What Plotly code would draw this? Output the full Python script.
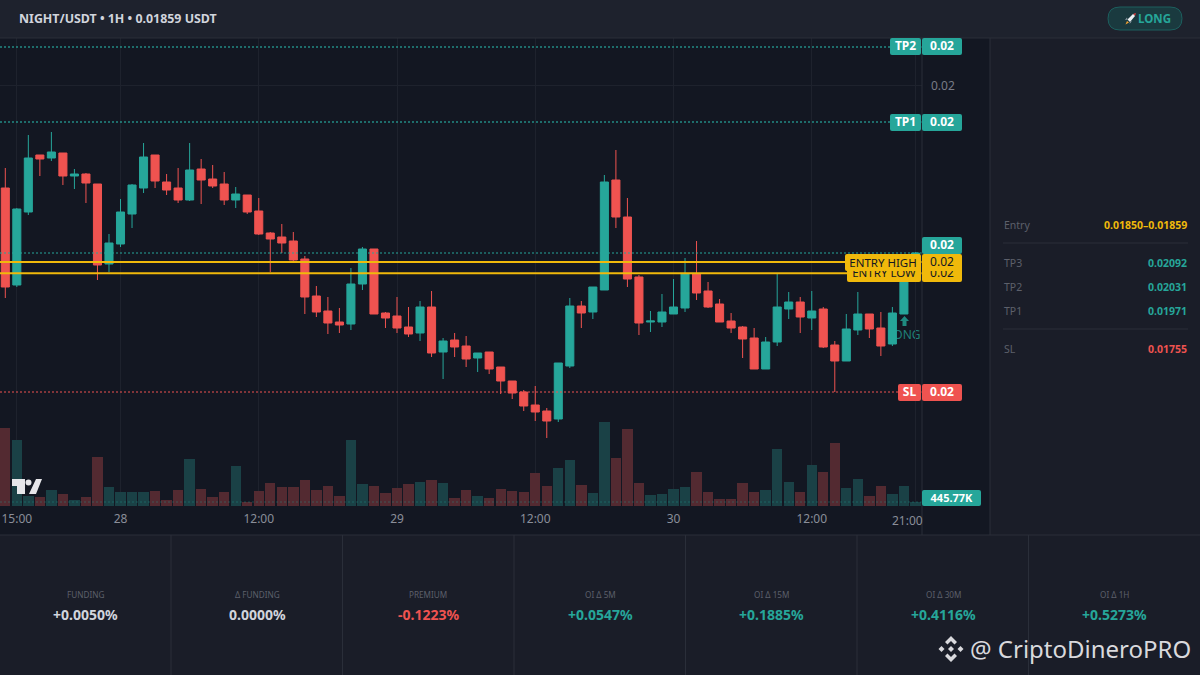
import plotly.graph_objects as go

# hourly candles
opens = [0.019182, 0.018406, 0.018990, 0.019446, 0.019422, 0.019462, 0.019278, 0.019294, 0.019214, 0.018574,
         0.018734, 0.018974, 0.019182, 0.019446, 0.019230, 0.019182, 0.019086, 0.019334, 0.019254, 0.019214,
         0.019086, 0.019126, 0.018998, 0.018822, 0.018790, 0.018758, 0.018614, 0.018318, 0.018198, 0.018110,
         0.018094, 0.018414, 0.018694, 0.018182, 0.018158, 0.018070, 0.018022, 0.018230, 0.017870, 0.017966,
         0.017918, 0.017822, 0.017870, 0.017750, 0.017638, 0.017550, 0.017446, 0.017398, 0.017334, 0.017758,
         0.018238, 0.018190, 0.018366, 0.019246, 0.018950, 0.018470, 0.018110, 0.018110, 0.018174, 0.018222,
         0.018494, 0.018358, 0.018254, 0.018118, 0.018070, 0.017982, 0.017734, 0.017950, 0.018214, 0.018270,
         0.018142, 0.018214, 0.017926, 0.017798, 0.018046, 0.018174, 0.018062, 0.017934, 0.018174, 0.018510]
highs = [0.019342, 0.019022, 0.019606, 0.019446, 0.019630, 0.019462, 0.019334, 0.019302, 0.019214, 0.018814,
         0.019094, 0.019214, 0.019542, 0.019446, 0.019294, 0.019342, 0.019542, 0.019414, 0.019366, 0.019310,
         0.019190, 0.019126, 0.019102, 0.018830, 0.018894, 0.018830, 0.018638, 0.018398, 0.018310, 0.018222,
         0.018542, 0.018710, 0.018694, 0.018190, 0.018310, 0.018230, 0.018278, 0.018358, 0.017982, 0.018022,
         0.017998, 0.017862, 0.017870, 0.017750, 0.017638, 0.017566, 0.017598, 0.017422, 0.017782, 0.018302,
         0.018278, 0.018390, 0.019286, 0.019486, 0.019102, 0.018486, 0.018198, 0.018334, 0.018454, 0.018622,
         0.018758, 0.018430, 0.018294, 0.018182, 0.018078, 0.018062, 0.017990, 0.018494, 0.018350, 0.018310,
         0.018358, 0.018230, 0.017958, 0.018174, 0.018350, 0.018174, 0.018190, 0.018230, 0.018510, 0.018670]
lows = [0.018302, 0.018390, 0.018966, 0.019278, 0.019398, 0.019206, 0.019174, 0.019062, 0.018446, 0.018510,
        0.018710, 0.018862, 0.019142, 0.019182, 0.019126, 0.019062, 0.019078, 0.019054, 0.019182, 0.019046,
        0.019022, 0.018974, 0.018806, 0.018510, 0.018662, 0.018598, 0.018174, 0.018150, 0.018014, 0.018022,
        0.018046, 0.018366, 0.018174, 0.018062, 0.018022, 0.017990, 0.017958, 0.017830, 0.017654, 0.017830,
        0.017750, 0.017710, 0.017694, 0.017534, 0.017494, 0.017398, 0.017318, 0.017182, 0.017310, 0.017742,
        0.018062, 0.018134, 0.018366, 0.018862, 0.018390, 0.018006, 0.018030, 0.018070, 0.018174, 0.018190,
        0.018286, 0.018222, 0.018110, 0.018022, 0.017822, 0.017734, 0.017734, 0.017918, 0.018134, 0.018022,
        0.018046, 0.017902, 0.017550, 0.017798, 0.018006, 0.017982, 0.017838, 0.017918, 0.018174, 0.018510]
closes = [0.018390, 0.019014, 0.019422, 0.019414, 0.019470, 0.019278, 0.019294, 0.019222, 0.018566, 0.018742,
          0.018990, 0.019206, 0.019430, 0.019238, 0.019166, 0.019086, 0.019326, 0.019246, 0.019198, 0.019086,
          0.019134, 0.018990, 0.018814, 0.018774, 0.018742, 0.018606, 0.018310, 0.018190, 0.018102, 0.018086,
          0.018414, 0.018694, 0.018174, 0.018142, 0.018062, 0.018014, 0.018230, 0.017862, 0.017958, 0.017910,
          0.017814, 0.017862, 0.017734, 0.017638, 0.017542, 0.017438, 0.017390, 0.017318, 0.017782, 0.018238,
          0.018182, 0.018390, 0.019230, 0.018950, 0.018454, 0.018102, 0.018118, 0.018190, 0.018230, 0.018494,
          0.018342, 0.018230, 0.018110, 0.018062, 0.017974, 0.017734, 0.017950, 0.018230, 0.018270, 0.018150,
          0.018198, 0.017910, 0.017798, 0.018054, 0.018174, 0.018054, 0.017918, 0.018182, 0.018510, 0.018662]
volumes_k = [8693, 7356, 1115, 1003, 1783, 1337, 669, 1003, 5461, 2118,
             1560, 1560, 1560, 1672, 669, 1783, 5238, 1895, 1003, 1560,
             4458, 446, 1672, 2563, 2118, 2118, 2898, 1783, 2229, 1115,
             7356, 2452, 2229, 1449, 2006, 2452, 2675, 2898, 2563, 892,
             1783, 1115, 892, 1895, 1672, 1560, 3678, 2229, 4235, 5127,
             2340, 1449, 9362, 5350, 8582, 2563, 1226, 1337, 1895, 2118,
             3789, 1560, 780, 780, 2563, 1560, 1783, 6353, 2675, 1560,
             4569, 3789, 7021, 2006, 3009, 1115, 2229, 1337, 2229, 445.77]

tick_index = [1, 10, 22, 34, 46, 58, 70, 79]
tick_labels = ["15:00", "28", "12:00", "29", "12:00", "30", "12:00", ""]

tp1, tp2, sl = 0.01971, 0.02031, 0.01755
entry_high, entry_low = 0.01859, 0.01850
last_price = 0.018662

side_labels = ["Entry", "TP3", "TP2", "TP1", "SL"]
side_values = ["0.01850–0.01859", "0.02092", "0.02031", "0.01971", "0.01755"]
stat_labels = ["FUNDING", "Δ FUNDING", "PREMIUM", "OI Δ 5M", "OI Δ 15M", "OI Δ 30M", "OI Δ 1H"]
stat_values = ["+0.0050%", "0.0000%", "-0.1223%", "+0.0547%", "+0.1885%", "+0.4116%", "+0.5273%"]

TEAL = "#26a69a"
RED = "#ef5350"
YELLOW = "#f0b90b"
BG = "#131722"
PANEL = "#1a1d28"
HEADER = "#1e222d"
BORDER = "#2a2e39"
FONT = "Noto Sans"

W, H = 1200, 675
index = list(range(len(opens)))
shapes = []
annotations = []


def px(x):
    return x / W


def py(y):
    return 1 - y / H


def note(x, y, text, size, color, bold=False, anchor="center"):
    annotations.append(dict(
        x=px(x), y=py(y), xref="paper", yref="paper", text=f"<b>{text}</b>" if bold else text,
        showarrow=False, xanchor=anchor, yanchor="middle",
        font=dict(family=FONT, size=size, color=color),
    ))


def rect(x0, y0, x1, y1, fill, layer="below"):
    shapes.append(dict(type="rect", xref="paper", yref="paper", x0=px(x0), x1=px(x1),
                       y0=py(y0), y1=py(y1), fillcolor=fill, line_width=0, layer=layer))


def line(x0, y0, x1, y1, color=BORDER, layer="above"):
    shapes.append(dict(type="line", xref="paper", yref="paper", x0=px(x0), x1=px(x1),
                       y0=py(y0), y1=py(y1), line=dict(color=color, width=1), layer=layer))


def poly(points, fill):
    path = "M " + " L ".join(f"{px(a):.5f} {py(b):.5f}" for a, b in points) + " Z"
    shapes.append(dict(type="path", xref="paper", yref="paper", path=path, fillcolor=fill,
                       line_width=0, layer="above"))


def tag(x0, y0, x1, y1, text, fill, color="#ffffff", size=12, weight="bold", r=2):
    # rounded price tag, the text stays with its shape so later tags can cover it
    a, b, c, d = px(x0), py(y0), px(x1), py(y1)
    rx, ry = px(r), r / H
    path = (f"M {a+rx:.5f} {b:.5f} L {c-rx:.5f} {b:.5f} Q {c:.5f} {b:.5f} {c:.5f} {b-ry:.5f} "
            f"L {c:.5f} {d+ry:.5f} Q {c:.5f} {d:.5f} {c-rx:.5f} {d:.5f} L {a+rx:.5f} {d:.5f} "
            f"Q {a:.5f} {d:.5f} {a:.5f} {d+ry:.5f} L {a:.5f} {b-ry:.5f} Q {a:.5f} {b:.5f} {a+rx:.5f} {b:.5f} Z")
    shapes.append(dict(type="path", xref="paper", yref="paper", path=path, fillcolor=fill,
                       line_width=0, layer="above",
                       label=dict(text=text, textposition="middle center",
                                  font=dict(family=FONT, size=size, color=color, weight=weight))))


def level(price, color, dash="2px,2px", width=1, yref="y2"):
    shapes.append(dict(type="line", xref="x domain", yref=yref, x0=0, x1=1, y0=price, y1=price,
                       line=dict(color=color, width=width, dash=dash), layer="above"))


# backgrounds
rect(0, 0, W, 38, HEADER)
rect(0, 38, 990, 535, BG)

# price levels
level(tp2, "#2bc4b4")
level(tp1, "#2bc4b4")
level(last_price, TEAL)
level(sl, RED)
level(entry_high, YELLOW, "solid", 2)
level(entry_low, YELLOW, "solid", 2)
level(volumes_k[-1], "rgba(38,166,154,0.35)", yref="y")

# the signal text sits under the candles, so the L is hidden like on the chart
shapes.append(dict(type="rect", xref="x", yref="y2", x0=76.5, x1=79.5, y0=0.01790, y1=0.01810,
                   line_width=0, fillcolor="rgba(0,0,0,0)", layer="below",
                   label=dict(text="LONG", textposition="middle center",
                              font=dict(family=FONT, size=12, color="#1f7f78"))))
poly([(904.5, 316), (909, 321), (906.5, 321), (906.5, 326), (902.5, 326), (902.5, 321), (900, 321)], "#1f8a80")

# frame lines
line(0, 38, W, 38)
line(922, 38, 922, 535)
line(990, 38, 990, 535)
line(0, 535, W, 535)
for x in [171, 342.5, 514, 685.5, 857, 1028.5]:
    line(x, 535, x, H)

# price tags
tag(890, 38, 921, 55, "TP2", TEAL)
tag(922, 38, 962, 55, "0.02", TEAL)
tag(890, 114, 921, 131, "TP1", TEAL)
tag(922, 114, 962, 131, "0.02", TEAL)
tag(922, 237, 962, 254, "0.02", TEAL)
tag(847, 265, 921, 282, "ENTRY LOW", YELLOW, BG, 11.5, "normal")
tag(922, 265, 962, 282, "0.02", YELLOW, BG, 12, "normal")
tag(845, 254, 921, 271, "ENTRY HIGH", YELLOW, BG, 11.5, "normal")
tag(922, 254, 962, 271, "0.02", YELLOW, BG, 12, "normal")
tag(898, 384, 921, 401, "SL", RED)
tag(922, 384, 962, 401, "0.02", RED)
tag(922, 490, 981, 506, "445.77K", TEAL, size=11)

# tradingview mark
poly([(12, 479), (25, 479), (25, 494), (17, 494), (17, 486), (12, 486)], "#e6e6ea")
shapes.append(dict(type="circle", xref="paper", yref="paper", x0=px(25.5), x1=px(31.5), y0=py(479.5), y1=py(485.5),
                   fillcolor="#e6e6ea", line_width=0, layer="above"))
poly([(36, 479), (42, 479), (36, 494), (29, 494)], "#e6e6ea")

# header
note(17, 19, "NIGHT/USDT • 1H • 0.01859 USDT", 12.4, "#d1d4dc", True, "left")
shapes.append(dict(type="path", xref="paper", yref="paper", layer="above", fillcolor="#1a3a3f",
                   line=dict(color="#1d5f5e", width=1),
                   path=(f"M {px(1120)} {py(7)} L {px(1170)} {py(7)} Q {px(1182)} {py(7)} {px(1182)} {py(18.5)} "
                         f"Q {px(1182)} {py(30)} {px(1170)} {py(30)} L {px(1120)} {py(30)} "
                         f"Q {px(1108)} {py(30)} {px(1108)} {py(18.5)} Q {px(1108)} {py(7)} {px(1120)} {py(7)} Z")))
# small rocket
poly([(1133, 14), (1136, 13), (1135, 16)], "#e23b3b")
poly([(1133, 14), (1135, 16), (1130, 22), (1127.5, 19.5)], "#eef1f4")
poly([(1127.5, 19.5), (1125, 20), (1127, 17.5)], "#9aa3ad")
poly([(1130, 22), (1129.5, 24), (1132, 21)], "#9aa3ad")
poly([(1127, 21), (1129, 22.5), (1125.5, 24.5)], "#f0a030")
note(1154, 19, "LONG", 11.5, TEAL, True)

# side panel
side_rows = [225, 263, 287, 311, 349]
side_colors = [YELLOW, TEAL, TEAL, TEAL, RED]
for row, label, value, color in zip(side_rows, side_labels, side_values, side_colors):
    note(1002, row, label, 10.5, "#5d606b", False, "left")
    note(1189, row, value, 10.5, color, True, "right")
line(1003, 243, 1188, 243)
line(1003, 329, 1188, 329)

# bottom stats
stat_colors = ["#d1d4dc", "#d1d4dc", RED, TEAL, TEAL, TEAL, TEAL]
stat_centers = [85.7, 257, 428, 600, 771, 943, 1114]
for center, label, value, color in zip(stat_centers, stat_labels, stat_values, stat_colors):
    note(center, 594, label, 8.2, "#5d606b")
    note(center, 614, value, 14, color, True)

# watermark
for pts in [
    [(951, 636), (957, 642), (954.5, 644.5), (951, 641), (947.5, 644.5), (945, 642)],
    [(951, 662), (957, 656), (954.5, 653.5), (951, 657), (947.5, 653.5), (945, 656)],
    [(951, 646), (954, 649), (951, 652), (948, 649)],
    [(941.5, 646), (944.5, 649), (941.5, 652), (938.5, 649)],
    [(960.5, 646), (963.5, 649), (960.5, 652), (957.5, 649)],
]:
    poly(pts, "#d9d9dd")
note(968, 648, "@ CriptoDineroPRO", 24, "#d9d9dd", False, "left")

# last axis label is pushed left so it fits beside the price scale
note(907, 520, "21:00", 12, "#8a8e99")

volume_colors = ["#1a4146" if c >= o else "#532a31" for o, c in zip(opens, closes)]

fig = go.Figure()
fig.add_trace(go.Bar(x=index, y=volumes_k, width=0.9, marker=dict(color=volume_colors, line_width=0),
                     yaxis="y", showlegend=False, hoverinfo="skip"))
fig.add_trace(go.Candlestick(
    x=index, open=opens, high=highs, low=lows, close=closes, yaxis="y2", showlegend=False,
    increasing=dict(line=dict(color=TEAL, width=1), fillcolor=TEAL),
    decreasing=dict(line=dict(color=RED, width=1), fillcolor=RED),
    whiskerwidth=0,
))

fig.update_layout(
    width=W, height=H,
    margin=dict(l=0, r=0, t=0, b=0),
    paper_bgcolor=PANEL,
    plot_bgcolor=BG,
    font=dict(family=FONT),
    bargap=0,
    boxmode="overlay",
    boxgap=0.3,
    boxgroupgap=0,
    showlegend=False,
    shapes=shapes,
    annotations=annotations,
    xaxis=dict(
        domain=[0, 922 / W], range=[-0.46, 79.57], rangeslider=dict(visible=False),
        tickmode="array", tickvals=tick_index, ticktext=tick_labels,
        showgrid=True, gridcolor="#1e222d", gridwidth=1, zeroline=False, showline=False, ticks="",
        tickfont=dict(family=FONT, size=12, color="#8a8e99"), ticklabelstandoff=4,
    ),
    yaxis=dict(domain=[py(506), py(38)], range=[0, 52130], visible=False, fixedrange=True),
    yaxis2=dict(
        domain=[py(506), py(38)], range=[0.016638, 0.020382], overlaying="y", side="right", anchor="x",
        tickmode="array", tickvals=[0.02], ticktext=["0.02"],
        showgrid=True, gridcolor="#1e222d", zeroline=False, showline=False, ticks="",
        tickfont=dict(family=FONT, size=12, color="#787b86"), ticklabelstandoff=8,
    ),
)

# the page's default body margin would push the chart 8px in
fig.write_html("out.html", config=dict(displayModeBar=False),
               post_script="document.body.style.margin = '0';")
